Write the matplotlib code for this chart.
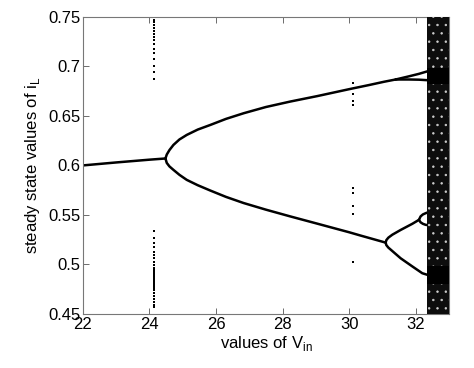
import matplotlib
matplotlib.use("Agg")
import matplotlib.pyplot as plt

plt.rcParams['font.family'] = ['Liberation Sans', 'DejaVu Sans']
plt.rcParams['mathtext.fontset'] = 'custom'
plt.rcParams['mathtext.rm'] = 'Liberation Sans'

# period-1 branch
p1_v = [22.0, 23.0, 24.0, 24.48]
p1_i = [0.600, 0.6030, 0.6058, 0.607]
# period-2 upper branch
p2u_v = [24.48, 24.52, 24.60, 24.72, 24.90, 25.12, 25.45, 25.83, 26.30, 26.83, 27.50, 28.23,
         29.04, 30.00, 30.60, 31.05, 31.40]
p2u_i = [0.607, 0.6110, 0.6155, 0.6207, 0.6262, 0.6308, 0.6362, 0.6409, 0.6470, 0.6527, 0.6590, 0.6645,
         0.6700, 0.6770, 0.6812, 0.6845, 0.6868]
# period-2 lower branch (until second bifurcation)
p2l_v = [24.48, 24.52, 24.60, 24.72, 24.90, 25.12, 25.45, 25.83, 26.30, 26.83, 27.50, 28.23,
         29.04, 30.00, 30.34, 30.70, 31.10]
p2l_i = [0.607, 0.6025, 0.5990, 0.5955, 0.5905, 0.5854, 0.5800, 0.5746, 0.5682, 0.5620, 0.5553, 0.5485,
         0.5412, 0.5325, 0.5292, 0.5258, 0.5220]
# upper branch split near chaos
p4uu_v = [31.40, 31.8, 32.1, 32.4]
p4uu_i = [0.6868, 0.6900, 0.6925, 0.6955]
p4ul_v = [31.40, 31.8, 32.1, 32.4]
p4ul_i = [0.6868, 0.6868, 0.6866, 0.6860]
# period-4 branches (from lower branch)
p4a_v = [31.10, 31.12, 31.18, 31.3, 31.55, 31.9, 32.10]
p4a_i = [0.5220, 0.5245, 0.5270, 0.5300, 0.5348, 0.5410, 0.5450]
p4b_v = [31.10, 31.12, 31.18, 31.3, 31.55, 31.9, 32.2, 32.4]
p4b_i = [0.5220, 0.5195, 0.5170, 0.5135, 0.5062, 0.4980, 0.4911, 0.4890]
# period-8 bubble
p8u_v = [32.10, 32.15, 32.22, 32.30, 32.4]
p8u_i = [0.5450, 0.5485, 0.5505, 0.5517, 0.5530]
p8l_v = [32.10, 32.15, 32.22, 32.30, 32.4]
p8l_i = [0.5450, 0.5425, 0.5410, 0.5400, 0.5395]
# scattered transient points
dots_24_v = 24.15
dots_24_i = [0.747, 0.745, 0.742, 0.739, 0.736, 0.733, 0.730, 0.727, 0.723, 0.718, 0.714, 0.708, 0.700, 0.694, 0.687,
             0.534, 0.527, 0.522, 0.518, 0.513, 0.510, 0.506, 0.502, 0.499, 0.496, 0.494, 0.492, 0.490, 0.488,
             0.486, 0.484, 0.482, 0.480, 0.478, 0.476, 0.474, 0.471, 0.468, 0.465, 0.462, 0.459, 0.457]
dots_30_v = 30.11
dots_30_i = [0.683, 0.672, 0.665, 0.661, 0.5776, 0.572, 0.5594, 0.551, 0.5022]
# chaotic band
chaos_v = [32.35, 33.0]
chaos_dense = [(0.682, 0.698), (0.480, 0.498)]

fig = plt.figure(figsize=(4.74, 3.68), dpi=100)
ax = fig.add_axes([0.175, 0.147, 0.772, 0.807])

for v, i in [(p1_v, p1_i), (p2u_v, p2u_i), (p2l_v, p2l_i), (p4uu_v, p4uu_i), (p4ul_v, p4ul_i),
             (p4a_v, p4a_i), (p4b_v, p4b_i), (p8u_v, p8u_i), (p8l_v, p8l_i)]:
    ax.plot(v, i, color='black', lw=1.8, solid_capstyle='round', solid_joinstyle='round')

ax.plot([dots_24_v] * len(dots_24_i), dots_24_i, 's', color='black', ms=1.6, mew=0)
ax.plot([dots_30_v] * len(dots_30_i), dots_30_i, 's', color='black', ms=2.0, mew=0)

plt.rcParams['hatch.linewidth'] = 0.5
ax.fill_betweenx([0.45, 0.75], chaos_v[0], chaos_v[1], facecolor='#0d0d0d', edgecolor='#d0d0d0',
                 hatch='..', linewidth=0, zorder=3)
for lo, hi in chaos_dense:
    ax.fill_betweenx([lo, hi], chaos_v[0], chaos_v[1], facecolor='black', linewidth=0, zorder=4)

ax.set_xlim(22, 33)
ax.set_ylim(0.45, 0.75)
ax.set_xticks([22, 24, 26, 28, 30, 32])
ax.set_xticklabels(['22', '24', '26', '28', '30', '32'])
ax.set_yticks([0.45, 0.5, 0.55, 0.6, 0.65, 0.7, 0.75])
ax.set_yticklabels(['0.45', '0.5', '0.55', '0.6', '0.65', '0.7', '0.75'])
ax.tick_params(direction='in', top=True, right=True, labelsize=12, length=4, width=0.6,
               colors='#555555', labelcolor='black', pad=2)
for s in ax.spines.values():
    s.set_color('#777777')
    s.set_linewidth(0.8)

ax.set_xlabel(r'values of V$_\mathregular{in}$', fontsize=12, labelpad=2)
ax.set_ylabel(r'steady state values of i$_\mathregular{L}$', fontsize=12, labelpad=4)

fig.savefig('out.png', dpi=100)
